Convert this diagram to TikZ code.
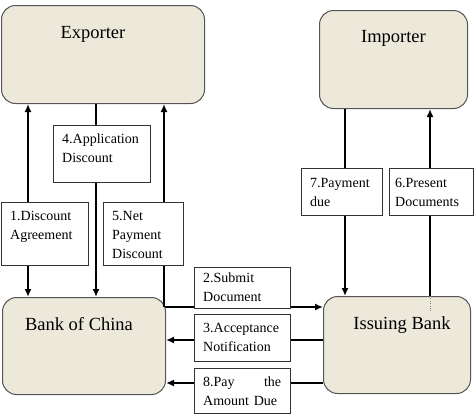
\documentclass[tikz,border=0pt]{standalone}
\usepackage{fontspec}
\setmainfont{Liberation Serif}
\usetikzlibrary{arrows.meta,shapes,backgrounds}
\definecolor{partyfill}{RGB}{236,233,218}
\definecolor{partyline}{RGB}{85,85,85}
\newcommand{\partyfont}{\fontsize{18.5}{22}\selectfont}
\newcommand{\stepfont}{\fontsize{14}{19}\selectfont}

\begin{document}
\begin{tikzpicture}[x=1pt,y=-1pt,>={Latex[length=8pt,width=7pt]},
    party/.style={rectangle,rounded corners=14pt,draw=partyline,fill=partyfill,line width=1pt,anchor=north west,inner sep=0pt},
    party text/.style={font=\partyfont,anchor=north,inner sep=0pt,yshift=-20pt},
    stepbox/.style={rectangle,draw=black!80,fill=white,line width=0.8pt,anchor=north west,inner sep=0pt},
    step text/.style={font=\stepfont,anchor=north west,inner sep=0pt,align=left,xshift=9pt,yshift=-9pt},
    flow/.style={->,line width=1.6pt},
    link/.style={line width=1.4pt}]

  \useasboundingbox (0,0) rectangle (474,418);

  % the four parties
  \node[party,minimum width=203pt,minimum height=98pt,
        label={[party text,xshift=-10pt,yshift=-1pt]north:Exporter}] (exp) at (1,5) {};
  \node[party,minimum width=148pt,minimum height=98pt,
        label={[party text]north:Importer}] (imp) at (319,10) {};
  \node[party,minimum width=163pt,minimum height=97pt,
        label={[party text,xshift=-5pt]north:Bank of China}] (boc) at (2,297) {};
  \node[party,minimum width=147pt,minimum height=97pt,
        label={[party text,xshift=5pt]north:Issuing Bank}] (iss) at (323,296) {};

  % the steps
  \node[stepbox,minimum width=87pt,minimum height=63pt,
        label={[step text]north west:{1.Discount\\Agreement}}] (1) at (1,202) {};
  \node[stepbox,minimum width=96pt,minimum height=41pt,
        label={[step text,yshift=3pt]north west:{2.Submit\\Document}}] (2) at (194,267) {};
  \node[stepbox,minimum width=96pt,minimum height=47pt,
        label={[step text]north west:{3.Acceptance\\Notification}}] (3) at (194,314) {};
  \node[stepbox,minimum width=97pt,minimum height=57pt,
        label={[step text]north west:{4.Application\\Discount}}] (4) at (53,125) {};
  \node[stepbox,minimum width=80pt,minimum height=63pt,
        label={[step text]north west:{5.Net\\Payment\\Discount}}] (5) at (103,202) {};
  \node[stepbox,minimum width=84pt,minimum height=47pt,
        label={[step text,xshift=-3pt,yshift=-1pt]north west:{6.Present\\Documents}}] (6) at (389,168) {};
  \node[stepbox,minimum width=81pt,minimum height=47pt,
        label={[step text,yshift=-1pt]north west:{7.Payment\\due}}] (7) at (301,168) {};
  \node[stepbox,minimum width=96pt,minimum height=45pt,
        label={[step text,text width=78pt]north west:{8.Pay\hfill the\\Amount Due}}] (8) at (194,368) {};

  % where the lines run
  \coordinate (c1) at (28,0);
  \coordinate (c4) at (96,0);
  \coordinate (c5) at (164,307);
  \coordinate (c7) at (345,0);
  \coordinate (c6) at (430,0);
  \coordinate (r3) at (0,340);
  \coordinate (r8) at (0,383);

  \draw[flow] (1.north -| c1) -- (exp.south -| c1);
  \draw[flow] (1.south -| c1) -- (boc.north -| c1);
  \draw[link] (exp.south -| c4) -- (4.north -| c4);
  \draw[flow] (4.south -| c4) -- (boc.north -| c4);
  \draw[flow] (5.north -| c5) -- (exp.south -| c5);
  \draw[link] (5.south -| c5) -- (c5);
  \begin{scope}[on background layer]
    \draw[flow] (c5) -- (iss.west |- c5);
  \end{scope}
  \draw[link] (iss.west |- r3) -- (3.east |- r3);
  \draw[flow] (3.west |- r3) -- (boc.east |- r3);
  \draw[link] (iss.west |- r8) -- (8.east |- r8);
  \draw[flow] (8.west |- r8) -- (boc.east |- r8);
  \draw[link,line width=2.4pt] (imp.south -| c7) -- (7.north -| c7);
  \draw[flow,line width=2.4pt] (7.south -| c7) -- (iss.north -| c7);
  \draw[flow] (6.north -| c6) -- (imp.south -| c6);
  \draw[link] (6.south -| c6) -- (iss.north -| c6);
  \draw[dotted,black!50] (iss.north -| c6) -- ++(0,16);
\end{tikzpicture}
\end{document}
